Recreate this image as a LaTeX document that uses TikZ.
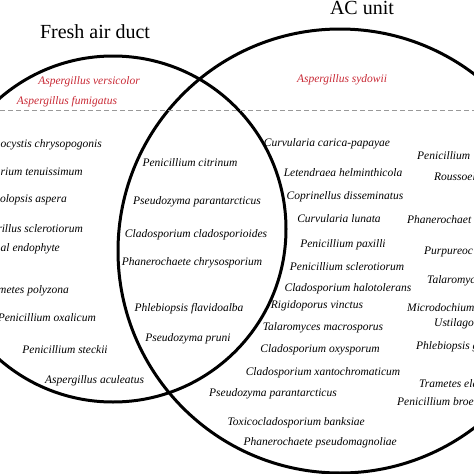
\documentclass[tikz,border=0pt]{standalone}
\usepackage{fontspec}
\setmainfont{Liberation Serif}
\definecolor{spred}{RGB}{200,40,52}
\begin{document}
\begin{tikzpicture}[x=1pt,y=-1pt,declare function={rl=173;rr=222;},
    sp/.style={font=\fontsize{11.5}{13}\selectfont\itshape,inner sep=0pt,anchor=base},
    spr/.style={sp,text=spred},
    ttl/.style={font=\fontsize{20}{24}\selectfont,inner sep=0pt,anchor=base}]
        \clip (0,0) rectangle (474,474);
        \coordinate (L) at (113,229);
        \coordinate (R) at (340,251);
        \draw[line width=3pt] (L) circle (rl);
        \draw[line width=3pt] (R) circle (rr);
        \draw[gray!80,line width=0.8pt,dash pattern=on 5pt off 3pt] (0,110) -- (474,110);
        \node[ttl] (duct) at (95,38) {Fresh air duct};
        \node[ttl] (acunit) at (362,14) {AC unit};
        % red, above the dashed line
        \node[spr] (versicolor) at (89,84) {Aspergillus versicolor};
        \node[spr] (fumigatus) at (67,104) {Aspergillus fumigatus};
        \node[spr] (sydowii) at (342,82) {Aspergillus sydowii};
        % fresh air duct only
        \node[sp,anchor=base east] (chrysopogonis) at (102,147) {ocystis chrysopogonis};
        \node[sp,anchor=base east] (tenuissimum) at (83,175) {rium tenuissimum};
        \node[sp,anchor=base east] (aspera) at (67,202) {olopsis aspera};
        \node[sp,anchor=base east] (asclerotiorum) at (83,232) {rillus sclerotiorum};
        \node[sp,anchor=base east] (endophyte) at (60,251) {al endophyte};
        \node[sp,anchor=base east] (polyzona) at (69,293) {metes polyzona};
        \node[sp,anchor=base east] (oxalicum) at (96,321) {Penicillium oxalicum};
        \node[sp] (steckii) at (65,353) {Penicillium steckii};
        \node[sp,anchor=base west] (aculeatus) at (45,383) {Aspergillus aculeatus};
        % both
        \node[sp] (citrinum) at (190,166) {Penicillium citrinum};
        \node[sp] (parant1) at (197,204) {Pseudozyma parantarcticus};
        \node[sp] (cladosp) at (196,237) {Cladosporium cladosporioides};
        \node[sp] (chrysosp) at (192,265) {Phanerochaete chrysosporium};
        \node[sp] (flavidoalba) at (189,311) {Phlebiopsis flavidoalba};
        \node[sp] (pruni) at (188,341) {Pseudozyma pruni};
        % AC unit only
        \node[sp] (papayae) at (327,146) {Curvularia carica-papayae};
        \node[sp] (helminth) at (343,176) {Letendraea helminthicola};
        \node[sp] (dissem) at (345,199) {Coprinellus disseminatus};
        \node[sp] (lunata) at (339,222) {Curvularia lunata};
        \node[sp] (paxilli) at (343,247) {Penicillium paxilli};
        \node[sp] (psclerotiorum) at (347,270) {Penicillium sclerotiorum};
        \node[sp] (halotol) at (348,291) {Cladosporium halotolerans};
        \node[sp] (vinctus) at (317,308) {Rigidoporus vinctus};
        \node[sp] (macrosp) at (323,330) {Talaromyces macrosporus};
        \node[sp] (oxysp) at (320,352) {Cladosporium oxysporum};
        \node[sp] (xanto) at (323,375) {Cladosporium xantochromaticum};
        \node[sp,anchor=base east] (parant2) at (337,396) {Pseudozyma parantarcticus};
        \node[sp,anchor=base east] (banksiae) at (365,425) {Toxicocladosporium banksiae};
        \node[sp,anchor=base east] (pseudomag) at (397,445) {Phanerochaete pseudomagnoliae};
        % cut at the right edge
        \node[sp,anchor=base west] (penic) at (417,159) {Penicillium};
        \node[sp,anchor=base west] (rouss) at (434,180) {Roussoel};
        \node[sp,anchor=base west] (phaner) at (407,223) {Phanerochaet};
        \node[sp,anchor=base west] (purp) at (424,254) {Purpureoc};
        \node[sp,anchor=base west] (talar) at (427,283) {Talaromyc};
        \node[sp,anchor=base west] (microd) at (407,311) {Microdochium};
        \node[sp,anchor=base west] (ustil) at (434,326) {Ustilago};
        \node[sp,anchor=base west] (phleb) at (416,349) {Phlebiopsis g};
        \node[sp,anchor=base west] (tram) at (419,387) {Trametes ela};
        \node[sp,anchor=base west] (penbro) at (397,405) {Penicillium broe};
\end{tikzpicture}
\end{document}
